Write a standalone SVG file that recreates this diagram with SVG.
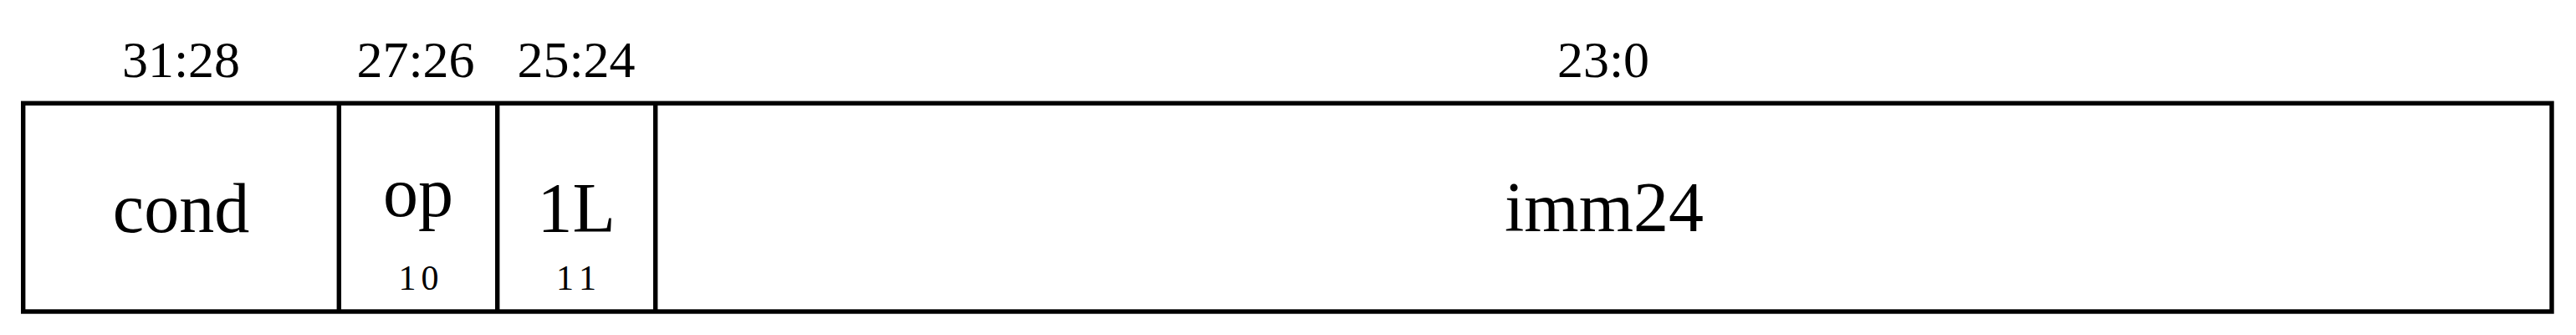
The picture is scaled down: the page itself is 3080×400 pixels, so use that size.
<svg xmlns="http://www.w3.org/2000/svg" width="3080" height="400" viewBox="0 0 3080 400">
  <style>
    .box { fill: #ffffff; stroke: #000000; stroke-width: 5.4; }
    .div { stroke: #000000; stroke-width: 5.4; }
    text { font-family: "Liberation Serif", "DejaVu Serif", serif; fill: #000000; text-anchor: middle; }
    .bits { font-size: 62px; }
    .name { font-size: 84px; }
    .val { font-size: 42px; }
  </style>
  <rect x="0" y="0" width="3080" height="400" fill="#ffffff"/>
  <g id="frame">
    <rect class="box" x="27.7" y="123.3" width="3023.3" height="248.7"/>
    <line class="div" x1="405.3" y1="123.3" x2="405.3" y2="372"/>
    <line class="div" x1="594.7" y1="123.3" x2="594.7" y2="372"/>
    <line class="div" x1="783.7" y1="123.3" x2="783.7" y2="372"/>
  </g>
  <g id="field-cond">
    <text class="bits" x="216.5" y="92">31:28</text>
    <text class="name" x="216.5" y="277">cond</text>
  </g>
  <g id="field-op">
    <text class="bits" x="497" y="92">27:26</text>
    <text class="name" x="500" y="258">op</text>
    <text class="val" x="500.5" y="345.7" textLength="48" lengthAdjust="spacing">10</text>
  </g>
  <g id="field-1L">
    <text class="bits" x="689" y="92">25:24</text>
    <text class="name" x="689.2" y="277">1L</text>
    <text class="val" x="689" y="345.7" textLength="48" lengthAdjust="spacing">11</text>
  </g>
  <g id="field-imm24">
    <text class="bits" x="1917" y="92">23:0</text>
    <text class="name" x="1918" y="276">imm24</text>
  </g>
  <g id="connectors"></g>
</svg>
